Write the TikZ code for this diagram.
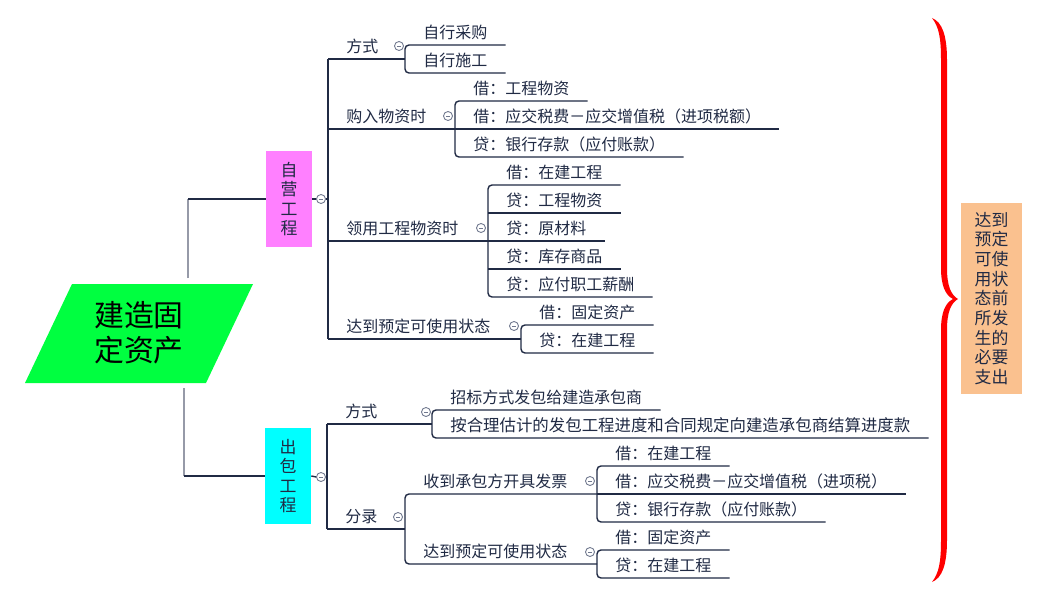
\documentclass[tikz,border=0pt]{standalone}
\usepackage{fontspec}
\setmainfont{Noto Sans CJK SC}

\definecolor{LineNavy}{RGB}{32,42,68}
\definecolor{FoldGrey}{RGB}{112,120,142}
\definecolor{LinkGrey}{RGB}{150,154,168}
\definecolor{RootGreen}{RGB}{0,255,64}
\definecolor{OwnPink}{RGB}{255,128,255}
\definecolor{OutCyan}{RGB}{0,255,255}
\definecolor{NotePeach}{RGB}{250,193,143}
\definecolor{BraceRed}{RGB}{255,0,0}

\begin{document}
\begin{tikzpicture}[x=0.02cm, y=-0.02cm,
    ln/.style={draw=LineNavy, line width=0.8pt},
    item/.style={anchor=south west, inner xsep=0.36cm, inner ysep=0.1cm, text=LineNavy, font=\fontsize{9.1pt}{11pt}\selectfont},
    fold/.style={circle, draw=FoldGrey, fill=white, line width=0.5pt, minimum size=0.18cm, inner sep=0pt,
        path picture={\draw[FoldGrey, line width=0.5pt] ([xshift=-0.045cm]path picture bounding box.center) -- ([xshift=0.045cm]path picture bounding box.center);}},
    vbox/.style={minimum width=0.92cm, minimum height=1.92cm, inner sep=0pt, align=center, text=LineNavy, font=\fontsize{9.6pt}{11pt}\selectfont}]

    \useasboundingbox (0,0) rectangle (1038,598);
    \fill[white] (0,0) rectangle (1038,598);

    % Root
    \fill[RootGreen] (72,284) -- (253,284) -- (206,383) -- (25,383) -- cycle;
    \node[align=center, font=\fontsize{17pt}{19.8pt}\selectfont] (root) at (139,333) {建造固\\定资产};
    \coordinate (ru) at (188,278);
    \coordinate (rd) at (184,388);

    % Main branches
    \node[vbox, fill=OwnPink] (own) at (289,199) {自\\营\\工\\程};
    \node[vbox, fill=OutCyan] (out) at (288,476) {出\\包\\工\\程};
    \draw[LinkGrey, line width=1.4pt] (ru) -- (ru |- own.west);
    \draw[ln] (ru |- own.west) -- (own.west);
    \draw[LinkGrey, line width=1.4pt] (rd) -- (rd |- out.west);
    \draw[ln] (rd |- out.west) -- (out.west);
    \node[fold] (f0) at (321,199) {};
    \node[fold] (g0) at (321,477) {};

    % Own: level 2
    \node[item] (m1) at (328,59) {方式};
    \node[item] (m2) at (328,129) {购入物资时};
    \node[item] (m3) at (328,241) {领用工程物资时};
    \node[item] (m4) at (328,339) {达到预定可使用状态};
    \node[fold] (f1) at (399,46) {};
    \node[fold] (f2) at (448,116) {};
    \node[fold] (f3) at (481,228) {};
    \node[fold] (f4) at (514,326) {};

    % Own: leaves
    \node[item] (a1) at (405,45) {自行采购};
    \node[item] (a2) at (405,73) {自行施工};
    \node[item] (b1) at (455,101) {借：工程物资};
    \node[item] (b2) at (455,129) {借：应交税费－应交增值税（进项税额）};
    \node[item] (b3) at (455,157) {贷：银行存款（应付账款）};
    \node[item] (c1) at (488,185) {借：在建工程};
    \node[item] (c2) at (488,213) {贷：工程物资};
    \node[item] (c3) at (488,241) {贷：原材料};
    \node[item] (c4) at (488,269) {贷：库存商品};
    \node[item] (c5) at (488,297) {贷：应付职工薪酬};
    \node[item] (d1) at (521,325) {借：固定资产};
    \node[item] (d2) at (521,353) {贷：在建工程};

    % Own: lines
    \draw[ln] (own.east) -- (f0.west);
    \draw[ln] (f0.east) -- (f0.east -| m1.south west);
    \draw[ln] (m1.south west) -- (m4.south west);
    \draw[ln] (m1.south west) -- (m1.south west -| a1.south west);
    \draw[ln] (m2.south west) -- (m2.south west -| b1.south west);
    \draw[ln] (m3.south west) -- (m3.south west -| c1.south west);
    \draw[ln] (m4.south west) -- (m4.south west -| d1.south west);
    \draw[ln, rounded corners=0.08cm] (a1.south east) -- (a1.south west) -- (a2.south west) -- (a2.south east);
    \draw[ln, rounded corners=0.08cm] (b1.south east) -- (b1.south west) -- (b3.south west) -- (b3.south east);
    \draw[ln] (b2.south west) -- (b2.south east);
    \draw[ln, rounded corners=0.08cm] (c1.south east) -- (c1.south west) -- (c5.south west) -- (c5.south east);
    \foreach \k in {c2,c3,c4}
        \draw[ln] (\k.south west) -- (\k.south east);
    \draw[ln, rounded corners=0.08cm] (d1.south east) -- (d1.south west) -- (d2.south west) -- (d2.south east);

    % Out: level 2 and 3
    \node[item] (n1) at (327,424) {方式};
    \node[item] (n2) at (327,529) {分录};
    \node[fold] (g1) at (426,412) {};
    \node[fold] (g2) at (398,517) {};
    \node[item] (k1) at (405,494) {收到承包方开具发票};
    \node[item] (k2) at (405,564) {达到预定可使用状态};
    \node[fold] (g3) at (590,481) {};
    \node[fold] (g4) at (590,552) {};

    % Out: leaves
    \node[item] (e1) at (432,410) {招标方式发包给建造承包商};
    \node[item, font=\fontsize{9.35pt}{11pt}\selectfont] (e2) at (432,438) {按合理估计的发包工程进度和合同规定向建造承包商结算进度款};
    \node[item] (p1) at (597,466) {借：在建工程};
    \node[item] (p2) at (597,494) {借：应交税费－应交增值税（进项税）};
    \node[item] (p3) at (597,522) {贷：银行存款（应付账款）};
    \node[item] (q1) at (597,550) {借：固定资产};
    \node[item] (q2) at (597,578) {贷：在建工程};

    % Out: lines
    \draw[ln] (out.east) -- (g0.west);
    \draw[ln] (g0.east) -- (g0.east -| n1.south west);
    \draw[ln] (n1.south west) -- (n2.south west);
    \draw[ln] (n1.south west) -- (n1.south west -| e1.south west);
    \draw[ln] (n2.south west) -- (n2.south west -| k1.south west);
    \draw[ln, rounded corners=0.08cm] (e1.south east) -- (e1.south west) -- (e2.south west) -- (e2.south east);
    \draw[ln, rounded corners=0.08cm] (k1.south west -| p2.south west) -- (k1.south west) -- (k2.south west) -- (k2.south west -| q1.south west);
    \draw[ln, rounded corners=0.08cm] (p1.south east) -- (p1.south west) -- (p3.south west) -- (p3.south east);
    \draw[ln] (p2.south west) -- (p2.south east);
    \draw[ln, rounded corners=0.08cm] (q1.south east) -- (q1.south west) -- (q2.south west) -- (q2.south east);

    % Brace and note
    \fill[BraceRed] (932,18) .. controls (942,22) and (947,35) .. (947,60) -- (947,268)
        .. controls (947,286) and (951,295) .. (958,299) .. controls (951,303) and (947,312) .. (947,330)
        -- (947,540) .. controls (947,565) and (942,578) .. (932,582)
        .. controls (939,573) and (941,562) .. (941,540) -- (941,330)
        .. controls (941,313) and (945,303) .. (953,299) .. controls (945,295) and (941,285) .. (941,268)
        -- (941,60) .. controls (941,38) and (939,27) .. (932,18) -- cycle;
    \node[fill=NotePeach, minimum width=1.22cm, minimum height=3.82cm, inner sep=0pt, align=center,
        text=LineNavy, font=\fontsize{9.6pt}{11.2pt}\selectfont] (note) at (991.5,298.5)
        {达到\\预定\\可使\\用状\\态前\\所发\\生的\\必要\\支出};
\end{tikzpicture}
\end{document}
